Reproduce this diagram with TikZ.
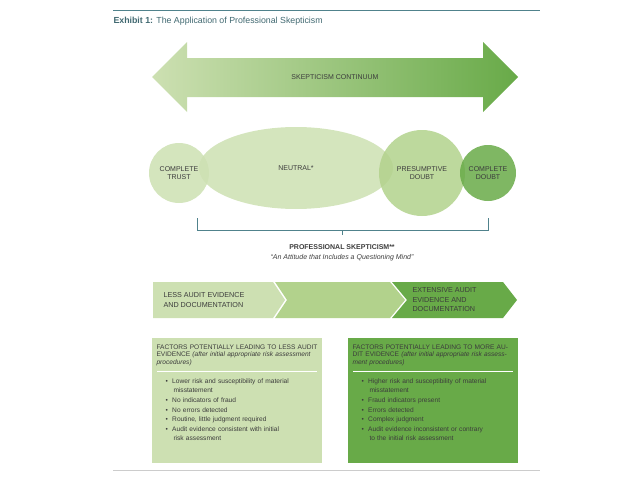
\documentclass[tikz,border=0pt]{standalone}
\usepackage{fontspec}
\setmainfont{Liberation Sans}
\usetikzlibrary{shapes.geometric}
\definecolor{Lgreen}{RGB}{205,224,178}
\definecolor{Mgreen}{RGB}{178,210,140}
\definecolor{Dgreen}{RGB}{104,170,72}
\definecolor{Tgray}{RGB}{60,60,60}
\definecolor{Rule}{RGB}{80,130,140}
\tikzset{
  lbl/.style={text=Tgray, font=\fontsize{7}{8.4}\selectfont, align=center},
  blob/.style={draw=none, fill opacity=0.85, text opacity=1, lbl},
  boxtxt/.style={lbl, anchor=north west, align=left, font=\fontsize{6.6}{7.6}\selectfont}
}
\begin{document}
\begin{tikzpicture}[x=1pt, y=-1pt]
    \useasboundingbox (0,0) rectangle (638,479);
    % title
    \draw[Rule, line width=0.8pt] (113,10) -- (540,10);
    \node[anchor=west, font=\fontsize{8.8}{10}\selectfont, text=Rule!80!black] (title) at (110,21) {\textbf{Exhibit 1:} The Application of Professional Skepticism};
    % continuum arrow
    \shade[left color=Lgreen, right color=Dgreen]
      (152,77) -- (187,42) -- (187,58) -- (483,58) -- (483,42) -- (518,77)
      -- (483,112) -- (483,97) -- (187,97) -- (187,112) -- cycle;
    \node[lbl] (cont) at (335,77) {SKEPTICISM CONTINUUM};
    % stances
    \node[blob, circle, fill=Lgreen, minimum size=60pt] (trust) at (179,173) {};
    \node[blob, ellipse, fill=Lgreen, minimum width=194pt, minimum height=82pt] (neutral) at (296,168) {NEUTRAL*};
    \node[blob, circle, fill=Mgreen, minimum size=86pt] (presume) at (422,173) {PRESUMPTIVE\\DOUBT};
    \node[blob, circle, fill=Dgreen, minimum size=56pt] (doubt) at (488,173) {COMPLETE\\DOUBT};
    \node[lbl] (trusttxt) at (trust) {COMPLETE\\TRUST};
    % bracket
    \coordinate (bl) at (197,218);
    \coordinate (br) at (488,218);
    \coordinate (bm) at (342,230);
    \draw[Rule, line width=0.6pt] (bl) |- (br |- bm) -- (br);
    \draw[Rule, line width=0.6pt] (bm) -- ++(0,5);
    \node[lbl, font=\fontsize{7}{8}\selectfont\bfseries] (prof) at (342,247) {PROFESSIONAL SKEPTICISM**};
    \node[lbl, font=\fontsize{7}{8}\selectfont\itshape] (quote) at (342,258) {``An Attitude that Includes a Questioning Mind''};
    % evidence chevrons
    \fill[Lgreen] (153,282) -- (273,282) -- (285,300) -- (273,318) -- (153,318) -- cycle;
    \fill[Mgreen] (275,282) -- (390,282) -- (405,300) -- (390,318) -- (275,318) -- (287,300) -- cycle;
    \fill[Dgreen] (392,282) -- (503,282) -- (517,300) -- (503,318) -- (392,318) -- (407,300) -- cycle;
    \node[lbl, anchor=west, align=left, font=\fontsize{7.2}{9.5}\selectfont] (less) at (160,300) {LESS AUDIT EVIDENCE\\AND DOCUMENTATION};
    \node[lbl, anchor=west, align=left, font=\fontsize{7.2}{9.5}\selectfont] (more) at (409,300) {EXTENSIVE AUDIT\\EVIDENCE AND\\DOCUMENTATION};
    % factor boxes
    \fill[Lgreen] (152,338) rectangle (322,463);
    \fill[Dgreen] (348,338) rectangle (518,463);
    \draw[white, line width=0.6pt] (157,371) -- (317,371);
    \draw[white, line width=0.6pt] (353,371) -- (513,371);
    \node[boxtxt, text width=162pt] (lesshead) at (153,341)
      {FACTORS POTENTIALLY LEADING TO LESS AUDIT EVIDENCE \emph{(after initial appropriate risk assessment procedures)}};
    \node[boxtxt, text width=158pt] (morehead) at (349,341)
      {FACTORS POTENTIALLY LEADING TO MORE AUDIT EVIDENCE \emph{(after initial appropriate risk assessment procedures)}};
    \node[boxtxt, text width=160pt, font=\fontsize{6.6}{9.6}\selectfont] (lesslist) at (162,375)
      {\textbullet\ \ Lower risk and susceptibility of material\\\hspace*{8pt}misstatement\\
       \textbullet\ \ No indicators of fraud\\\textbullet\ \ No errors detected\\
       \textbullet\ \ Routine, little judgment required\\
       \textbullet\ \ Audit evidence consistent with initial\\\hspace*{8pt}risk assessment};
    \node[boxtxt, text width=160pt, font=\fontsize{6.6}{9.6}\selectfont] (morelist) at (358,375)
      {\textbullet\ \ Higher risk and susceptibility of material\\\hspace*{8pt}misstatement\\
       \textbullet\ \ Fraud indicators present\\\textbullet\ \ Errors detected\\
       \textbullet\ \ Complex judgment\\
       \textbullet\ \ Audit evidence inconsistent or contrary\\\hspace*{8pt}to the initial risk assessment};
    \draw[gray!40, line width=1pt] (113,470) -- (540,470);
\end{tikzpicture}
\end{document}
